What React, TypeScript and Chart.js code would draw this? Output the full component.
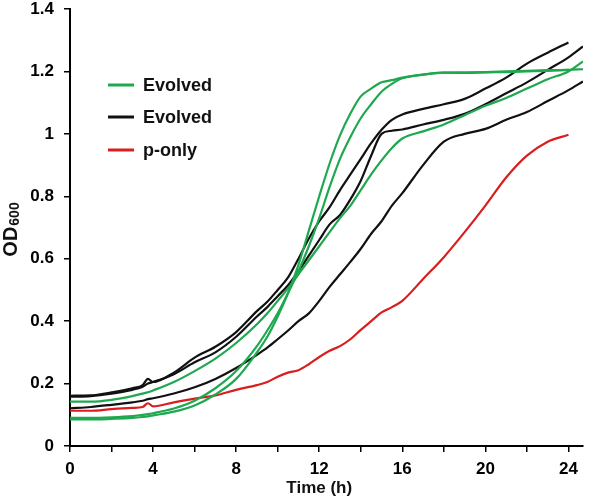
import React, { useEffect, useRef } from "react";
import { Chart, registerables } from "chart.js";

Chart.register(...registerables);

// ---- Data (hours, OD600) ----
const TIMES = [0, 1, 2, 3, 3.5, 3.75, 4, 5, 6, 7, 8, 9, 9.5, 10, 10.5, 11, 11.5, 12, 12.5, 13, 13.5, 14, 14.5, 15, 15.5, 16, 17, 18, 19, 20, 21, 22, 23, 24, 24.7];

const GREEN_A = [0.085, 0.085, 0.087, 0.09, 0.093, 0.095, 0.098, 0.11, 0.13, 0.165, 0.215, 0.3, 0.35, 0.415, 0.49, 0.58, 0.69, 0.8, 0.905, 0.995, 1.065, 1.12, 1.145, 1.165, 1.172, 1.18, 1.19, 1.196, 1.195, 1.197, 1.198, 1.2, 1.202, 1.205, null];
const GREEN_B = [0.09, 0.09, 0.092, 0.096, 0.1, 0.102, 0.105, 0.12, 0.145, 0.185, 0.24, 0.32, 0.37, 0.425, 0.49, 0.56, 0.64, 0.73, 0.83, 0.92, 0.99, 1.05, 1.095, 1.135, 1.16, 1.178, 1.19, 1.196, 1.197, 1.198, 1.2, 1.202, 1.204, 1.205, 1.207];
const GREEN_C = [0.142, 0.142, 0.148, 0.16, 0.168, 0.172, 0.178, 0.205, 0.24, 0.28, 0.33, 0.39, 0.425, 0.465, 0.505, 0.55, 0.595, 0.64, 0.685, 0.73, 0.77, 0.82, 0.87, 0.915, 0.955, 0.985, 1.008, 1.03, 1.06, 1.09, 1.115, 1.145, 1.175, 1.2, 1.232];
const BLACK_A = [0.161, 0.162, 0.172, 0.185, 0.195, 0.215, 0.205, 0.235, 0.283, 0.318, 0.365, 0.432, 0.462, 0.5, 0.54, 0.6, 0.665, 0.72, 0.765, 0.82, 0.87, 0.92, 0.97, 1.013, 1.045, 1.062, 1.08, 1.095, 1.112, 1.145, 1.18, 1.225, 1.26, 1.293, null];
const BLACK_B = [0.158, 0.16, 0.168, 0.18, 0.19, 0.2, 0.205, 0.23, 0.268, 0.3, 0.35, 0.415, 0.445, 0.48, 0.515, 0.56, 0.61, 0.66, 0.71, 0.74, 0.79, 0.85, 0.93, 1.0, 1.01, 1.014, 1.03, 1.045, 1.064, 1.095, 1.13, 1.165, 1.205, 1.245, 1.28];
const BLACK_C = [0.121, 0.125, 0.132, 0.14, 0.145, 0.15, 0.153, 0.168, 0.188, 0.215, 0.25, 0.292, 0.315, 0.342, 0.37, 0.4, 0.425, 0.465, 0.51, 0.55, 0.59, 0.632, 0.68, 0.72, 0.77, 0.81, 0.9, 0.975, 1.0, 1.016, 1.045, 1.07, 1.105, 1.14, 1.168];
const RED_P = [0.113, 0.113, 0.118, 0.122, 0.125, 0.137, 0.127, 0.14, 0.152, 0.162, 0.18, 0.195, 0.205, 0.222, 0.235, 0.243, 0.262, 0.285, 0.305, 0.32, 0.342, 0.372, 0.4, 0.428, 0.445, 0.465, 0.535, 0.605, 0.685, 0.77, 0.86, 0.93, 0.975, 0.997, null];

const X_TICKS = [0, 2, 4, 6, 8, 10, 12, 14, 16, 18, 20, 22, 24];
const X_LABEL_EVERY = 4;
const X_MIN = 0;
const X_MAX = 24.7;
const Y_MIN = 0;
const Y_MAX = 1.4;
const Y_STEP = 0.2;

const LEGEND_LABELS = ["Evolved", "Evolved", "p-only"];
const X_TITLE = "Time (h)";
const Y_TITLE_MAIN = "OD";
const Y_TITLE_SUB = "600";

const GREEN = "#1fa84f";
const BLACK = "#111111";
const RED = "#d81e1e";
const LEGEND_COLORS = [GREEN, BLACK, RED];

const FONT_FAMILY = "'Liberation Sans', Arial, sans-serif";

function toPoints(values: (number | null)[]) {
  return TIMES.map((t, i) => ({ x: t, y: values[i] }));
}

const overlayPlugin = {
  id: "overlay",
  afterDraw(chart: any) {
    const ctx = chart.ctx;
    const xs = chart.scales.x;
    const area = chart.chartArea;
    ctx.save();
    // Legend inside plot
    ctx.font = `bold 18px ${FONT_FAMILY}`;
    ctx.textBaseline = "middle";
    ctx.textAlign = "left";
    const lx = 108;
    const rows = [85, 117, 150];
    LEGEND_LABELS.forEach((label, i) => {
      ctx.strokeStyle = LEGEND_COLORS[i];
      ctx.lineWidth = 3;
      ctx.beginPath();
      ctx.moveTo(lx, rows[i]);
      ctx.lineTo(lx + 26, rows[i]);
      ctx.stroke();
      ctx.fillStyle = "#111";
      ctx.fillText(label, lx + 35, rows[i] + 1);
    });
    // X title
    ctx.font = `bold 17px ${FONT_FAMILY}`;
    ctx.textAlign = "center";
    ctx.textBaseline = "middle";
    ctx.fillText(X_TITLE, xs.getPixelForValue(12), chart.height - 12);
    // Y title with subscript
    const mainFont = `bold 20px ${FONT_FAMILY}`;
    const subFont = `bold 14px ${FONT_FAMILY}`;
    ctx.font = mainFont;
    const wMain = ctx.measureText(Y_TITLE_MAIN).width;
    ctx.font = subFont;
    const wSub = ctx.measureText(Y_TITLE_SUB).width;
    const total = wMain + wSub + 1;
    const cy = (area.top + area.bottom) / 2 + 2;
    ctx.translate(17, cy);
    ctx.rotate(-Math.PI / 2);
    ctx.textAlign = "left";
    ctx.textBaseline = "alphabetic";
    ctx.font = mainFont;
    ctx.fillText(Y_TITLE_MAIN, -total / 2, 0);
    ctx.font = subFont;
    ctx.fillText(Y_TITLE_SUB, -total / 2 + wMain + 1, 2);
    ctx.restore();
  },
};

export default function App() {
  const canvasRef = useRef<HTMLCanvasElement | null>(null);

  useEffect(() => {
    document.body.style.margin = "0";
    const canvas = canvasRef.current;
    if (!canvas) return;
    const line = (values: (number | null)[], color: string) => ({
      data: toPoints(values),
      borderColor: color,
      backgroundColor: color,
      borderWidth: 2.2,
      pointRadius: 0,
      fill: false,
      cubicInterpolationMode: "monotone" as const,
      spanGaps: false,
    });
    const tickFont = { family: FONT_FAMILY, size: 17, weight: "bold" as const };
    const chart = new Chart(canvas, {
      type: "line",
      data: {
        datasets: [
          line(GREEN_A, GREEN),
          line(GREEN_B, GREEN),
          line(GREEN_C, GREEN),
          line(BLACK_A, BLACK),
          line(BLACK_B, BLACK),
          line(BLACK_C, BLACK),
          line(RED_P, RED),
        ],
      },
      options: {
        animation: false,
        responsive: false,
        maintainAspectRatio: false,
        devicePixelRatio: 1,
        layout: { padding: { top: 9, right: 13, left: 0, bottom: 0 } },
        plugins: { legend: { display: false }, tooltip: { enabled: false } },
        scales: {
          x: {
            type: "linear",
            min: X_MIN,
            max: X_MAX,
            afterBuildTicks: (s: any) => {
              s.ticks = X_TICKS.map((v) => ({ value: v }));
            },
            afterFit: (s: any) => {
              s.height = 54;
              s.paddingLeft = 0;
              s.paddingRight = 0;
            },
            grid: { drawOnChartArea: false, drawTicks: true, tickLength: 6, color: "#000", lineWidth: 1.5 },
            border: { display: true, color: "#000", width: 2 },
            ticks: {
              autoSkip: false,
              maxRotation: 0,
              padding: 7,
              color: "#000",
              font: tickFont,
              callback: (v: any) => (Number(v) % X_LABEL_EVERY === 0 ? String(v) : ""),
            },
          },
          y: {
            type: "linear",
            min: Y_MIN,
            max: Y_MAX,
            afterFit: (s: any) => {
              s.width = 70;
              s.paddingTop = 0;
              s.paddingBottom = 0;
            },
            grid: { drawOnChartArea: false, drawTicks: true, tickLength: 6, color: "#000", lineWidth: 1.5 },
            border: { display: true, color: "#000", width: 2 },
            ticks: {
              stepSize: Y_STEP,
              padding: 10,
              color: "#000",
              font: tickFont,
              callback: (v: any) => String(Math.round(Number(v) * 10) / 10),
            },
          },
        },
      },
      plugins: [overlayPlugin],
    });
    return () => chart.destroy();
  }, []);

  return (
    <div style={{ width: 596, height: 500, background: "#fff" }}>
      <canvas ref={canvasRef} width={596} height={500} style={{ display: "block" }} />
    </div>
  );
}
